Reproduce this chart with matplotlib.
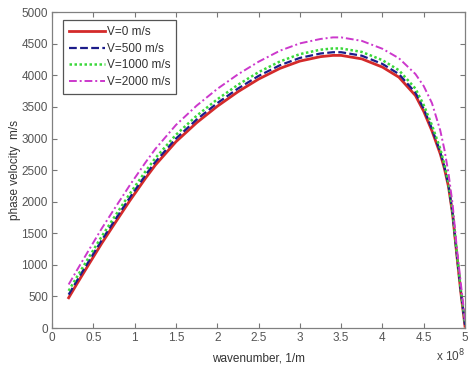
import matplotlib
matplotlib.use("Agg")
import matplotlib.pyplot as plt

# wavenumber in units of 1e8 1/m
k = [0.2, 0.3, 0.44, 0.6, 0.75, 0.94, 1.13, 1.25, 1.5, 1.75, 2.0, 2.25, 2.5, 2.76,
     3.0, 3.25, 3.4, 3.5, 3.75, 4.0, 4.2, 4.4, 4.5, 4.6, 4.7, 4.75, 4.8, 4.85, 4.9,
     4.95, 5.0]

v0 = [480, 700, 1000, 1340, 1640, 2015, 2370, 2580, 2950, 3250, 3510, 3740, 3940, 4110,
      4225, 4295, 4315, 4315, 4260, 4130, 3970, 3680, 3430, 3120, 2760, 2530, 2240, 1800,
      1170, 560, 30]
v500 = [530, 750, 1050, 1390, 1690, 2065, 2420, 2630, 3000, 3300, 3560, 3790, 3990, 4160,
        4275, 4345, 4365, 4365, 4310, 4180, 4020, 3725, 3470, 3155, 2790, 2555, 2265, 1815,
        1185, 575, 50]
v1000 = [590, 810, 1110, 1450, 1750, 2125, 2480, 2690, 3060, 3360, 3620, 3850, 4050, 4220,
         4335, 4405, 4425, 4425, 4370, 4240, 4080, 3790, 3530, 3210, 2840, 2595, 2295, 1840,
         1205, 600, 70]
v2000 = [690, 915, 1225, 1575, 1880, 2260, 2620, 2835, 3215, 3520, 3785, 4015, 4215, 4390,
         4505, 4575, 4600, 4600, 4545, 4420, 4270, 4020, 3830, 3560, 3130, 2830, 2450, 1960,
         1280, 700, 120]

x_ticks = [0, 0.5, 1, 1.5, 2, 2.5, 3, 3.5, 4, 4.5, 5]
y_ticks = [0, 500, 1000, 1500, 2000, 2500, 3000, 3500, 4000, 4500, 5000]

plt.rcParams["font.family"] = ["Liberation Sans", "DejaVu Sans"]

fig = plt.figure(figsize=(4.74, 3.67), dpi=100)
ax = fig.add_axes([0.110, 0.106, 0.871, 0.861])

ax.plot(k, v0, color="#d42a2a", lw=2.0, ls="-", label="V=0 m/s")
ax.plot(k, v500, color="#1c1c8a", lw=1.6, ls=(0, (3.5, 1.5)), label="V=500 m/s")
ax.plot(k, v1000, color="#3ad83a", lw=1.8, ls=(0, (1, 1)), label="V=1000 m/s")
ax.plot(k, v2000, color="#cc38cc", lw=1.4, ls=(0, (4, 1.5, 1, 1.5)), label="V=2000 m/s")

ax.set_xlim(0, 5)
ax.set_ylim(0, 5000)
ax.set_xticks(x_ticks)
ax.set_xticklabels([f"{t:g}" for t in x_ticks])
ax.set_yticks(y_ticks)
ax.tick_params(direction="in", top=True, right=True, length=3.5, width=0.8,
               colors="#777777", labelcolor="#555555", labelsize=8.5, pad=3)
for s in ax.spines.values():
    s.set_color("#808080")
    s.set_linewidth(0.9)

ax.set_xlabel("wavenumber, 1/m", fontsize=8.5, color="#333333", labelpad=6)
ax.set_ylabel("phase velocity  m/s", fontsize=8.5, color="#333333", labelpad=0.5)
fig.text(0.981, 0.008, r"x 10$^8$", ha="right", va="bottom",
         fontsize=8.5, color="#444444")

leg = ax.legend(loc="upper left", bbox_to_anchor=(0.027, 0.975), borderaxespad=0,
                fontsize=8.5, handlelength=3.0, handletextpad=0.2, borderpad=0.5,
                labelspacing=0.4, fancybox=False, framealpha=1)
leg.get_frame().set_edgecolor("#555555")
leg.get_frame().set_linewidth(0.9)
for t in leg.get_texts():
    t.set_color("#333333")

fig.savefig("out.png", dpi=100)
